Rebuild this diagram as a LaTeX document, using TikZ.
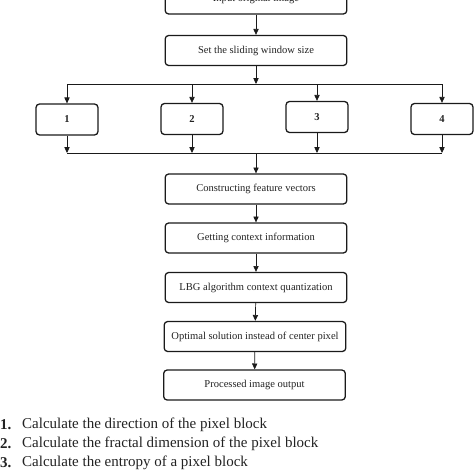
\documentclass[tikz,border=0pt]{standalone}
\usepackage{fontspec}
\setmainfont{Liberation Serif}
\usetikzlibrary{arrows.meta, positioning}

\begin{document}
\begin{tikzpicture}[
    x=0.03cm, y=-0.03cm,
    every node/.style={font=\rmfamily},
]

% ---------------------------------------------------------------- colours
\definecolor{linecol}{HTML}{1A1A1A}   % box borders and connectors
\definecolor{textcol}{HTML}{222222}   % all text

% ---------------------------------------------------------------- styles
\tikzset{
    stepbox/.style={
        rectangle, rounded corners=3pt, minimum width=5.45cm,
        minimum height=0.9cm, inner sep=1pt,
        draw=linecol, line width=1.1pt,
        text=textcol, font=\fontsize{9}{10.5}\selectfont,
    },
    branchbox/.style={
        stepbox, minimum width=1.86cm, minimum height=0.93cm,
        font=\fontsize{9}{10.5}\selectfont\bfseries,
    },
    flow/.style={
        -{Triangle[length=5pt, width=4.5pt]}, line width=0.6pt, linecol,
    },
    bar/.style={line width=0.6pt, linecol},
    legnum/.style={anchor=west, inner sep=0pt, text=textcol,
        font=\fontsize{12.8}{15}\selectfont\bfseries},
    legtext/.style={anchor=west, inner sep=0pt, text=textcol,
        font=\fontsize{12.8}{15}\selectfont},
}

% ================================================================
% GEOMETRY (pixel units, y grows downward)
%   main column    x = 256
%   branch columns x = 67, 192, 317, 442
%   split bar      y = 84,  merge bar y = 153
%   legend         y = 425 / 444 / 462
% ================================================================

\useasboundingbox (0,0) rectangle (474,474);
\clip (0,0) rectangle (474,474);

% ---------------------------------------------------------------- top steps
\node[stepbox] (input)  at (256,-1)   {Input original image};
\node[stepbox] (setwin) at (256,50.5) {Set the sliding window size};

\draw[flow] (input) -- (setwin);

% ---------------------------------------------------------------- branches
\coordinate (stop) at (256,84);
\coordinate (mid)  at (256,153);

\foreach \x/\n/\y in {67/1/119.5, 192/2/119, 317/3/117, 442/4/119} {
    \coordinate (s\n) at (\x,84);
    \coordinate (m\n) at (\x,153);
    \node[branchbox] (b\n) at (\x,\y) {\n};
    \draw[flow] (s\n) -- (b\n);
    \draw[flow] (b\n) -- (m\n);
}

\draw[flow] (setwin) -- (stop);
\draw[bar] (s1) -- (s4);
\draw[bar] (m1) -- (m4);

% ---------------------------------------------------------------- lower steps
\node[stepbox] (feat) at (256,189)   {Constructing feature vectors};
\node[stepbox] (ctx)  at (256,238)   {Getting context information};
\node[stepbox] (lbg)  at (256,287.5) {LBG algorithm context quantization};
\node[stepbox] (opt)  at (255,336.5) {Optimal solution instead of center pixel};
\node[stepbox] (out)  at (254.5,385) {Processed image output};

\draw[flow] (mid)  -- (feat);
\draw[flow] (feat) -- (ctx);
\draw[flow] (ctx)  -- (lbg);
\draw[flow] (lbg)  -- (opt);
\draw[flow] (opt)  -- (out);

% ---------------------------------------------------------------- legend
\node[legnum]  (n1) at (0,425) {1.};
\node[legtext] (l1) at (22,425) {Calculate the direction of the pixel block};
\node[legnum]  (n2) at (0,444) {2.};
\node[legtext] (l2) at (22,444) {Calculate the fractal dimension of the pixel block};
\node[legnum]  (n3) at (0,462.5) {3.};
\node[legtext] (l3) at (22,462.5) {Calculate the entropy of a pixel block};

\end{tikzpicture}
\end{document}
